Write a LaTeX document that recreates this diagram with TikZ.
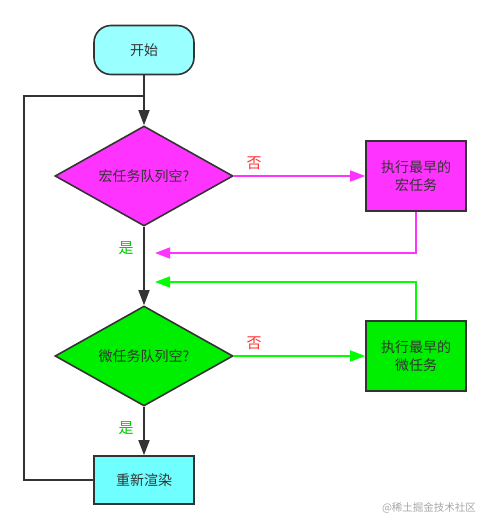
\documentclass[tikz,border=0pt]{standalone}
\usepackage{fontspec}
\setmainfont{Noto Sans CJK SC}
\usetikzlibrary{shapes.geometric,arrows.meta}
\definecolor{ink}{HTML}{333333}
\definecolor{cyanA}{HTML}{99FFFF}
\definecolor{cyanB}{HTML}{70FFFF}
\definecolor{magent}{HTML}{FF33FF}
\definecolor{lime}{HTML}{00EE00}
\definecolor{limeline}{HTML}{00FF00}
\definecolor{nored}{HTML}{FF3333}
\definecolor{yesgreen}{HTML}{00CC00}

\begin{document}
\begin{tikzpicture}[x=1pt, y=-1pt,
    every node/.style={font=\fontsize{14pt}{18pt}\selectfont, text=ink},
    terminal/.style={rectangle, rounded corners=17pt, draw=ink, line width=1.6pt,
      minimum width=100pt, minimum height=49pt, inner sep=0pt},
    decision/.style={diamond, aspect=1.78, draw=ink, line width=1.6pt,
      minimum width=178pt, minimum height=100pt, inner sep=0pt},
    taskbox/.style={rectangle, draw=ink, line width=1.6pt, align=center,
      minimum width=100pt, minimum height=70pt, inner sep=0pt},
    flow/.style={line width=1.6pt, draw=ink, -{Triangle[length=15pt,width=11pt]}},
    answer/.style={font=\fontsize{15pt}{17pt}\selectfont},
    ]
    \useasboundingbox (0,0) rectangle (491,529);

    % nodes
    \node[terminal, fill=cyanA] (start) at (144,50) {开始};
    \node[decision, fill=magent] (macro) at (144,176) {宏任务队列空?};
    \node[taskbox, fill=magent] (runmacro) at (416,176) {执行最早的\\宏任务};
    \node[decision, fill=lime] (micro) at (144,356) {微任务队列空?};
    \node[taskbox, fill=lime] (runmicro) at (416,356) {执行最早的\\微任务};
    \node[taskbox, fill=cyanB, minimum height=48pt] (render) at (144,480) {重新渲染};

    \coordinate (join) at (144,96);
    \coordinate (macroback) at (155,253);
    \coordinate (microback) at (155,282);

    % main line
    \draw[flow] (start) -- (macro);
    \draw[flow] (macro) -- (micro);
    \draw[flow] (micro) -- (render);
    \draw[line width=1.6pt, draw=ink] (render.west) -- ++(-69,0) |- (join);

    % side branches
    \draw[flow, draw=magent] (macro.east) -- (runmacro.west);
    \draw[flow, draw=magent] (runmacro.south) |- (macroback);
    \draw[flow, draw=limeline] (micro.east) -- (runmicro.west);
    \draw[flow, draw=limeline] (runmicro.north) |- (microback);

    % labels
    \node[answer, text=nored] (no1) at (254,163) {否};
    \node[answer, text=nored] (no2) at (254,343) {否};
    \node[answer, text=yesgreen] (yes1) at (126,248) {是};
    \node[answer, text=yesgreen] (yes2) at (126,428) {是};

    \node[font=\fontsize{10.5pt}{12pt}\selectfont, text=black!35] (mark) at (429,508) {@稀土掘金技术社区};
  \end{tikzpicture}
\end{document}
